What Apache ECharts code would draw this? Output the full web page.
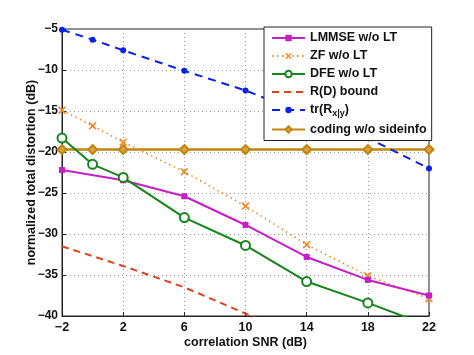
<!DOCTYPE html>
<html><head><meta charset="utf-8">
<script src="https://cdn.jsdelivr.net/npm/echarts@6/dist/echarts.min.js"></script>
<style>html,body{margin:0;padding:0;background:#fff}#c{width:474px;height:355px}</style>
</head><body><div id="c"></div>
<script>
const xTicks = [-2, 2, 6, 10, 14, 18, 22];
const yTicks = [-40, -35, -30, -25, -20, -15, -10, -5];
const snrAll = [-2, 0, 2, 6, 10, 14, 18, 22];
const snrLmmse = [-2, 2, 6, 10, 14, 18, 22];
const snrRD = [-2, 2, 6, 10, 14];
const lmmse = [-22.2, -23.45, -25.4, -28.9, -32.8, -35.6, -37.5];
const zf = [-14.9, -16.8, -18.8, -22.4, -26.6, -31.3, -35.1, -37.9];
const dfe = [-18.3, -21.5, -23.1, -28.0, -31.4, -35.8, -38.4, -41.2];
const rd = [-31.5, -33.9, -36.5, -39.7, -43.0];
const trR = [-5.1, -6.3, -7.6, -10.1, -12.5, -15.4, -18.3, -22.0];
const coding = [-19.7, -19.7, -19.7, -19.7, -19.7, -19.7, -19.7, -19.7];
const names = ['LMMSE w/o LT', 'ZF w/o LT', 'DFE w/o LT', 'R(D) bound', 'tr(Rx|y)', 'coding w/o sideinfo'];

const zip = (xs, ys) => xs.map((x, i) => [x, ys[i]]);
const FONT = 'Liberation Sans';
const crossPath = 'path://M0,1.4 L1.4,0 L5,3.6 L8.6,0 L10,1.4 L6.4,5 L10,8.6 L8.6,10 L5,6.4 L1.4,10 L0,8.6 L3.6,5 Z';
const flatPath = 'path://M0,0 L10,10';
const minus = v => String(v).replace('-', '\u2212');

const chart = echarts.init(document.getElementById('c'));
const axisLine = { show: true, onZero: false, lineStyle: { color: '#222', width: 1 } };
const tick = { show: true, inside: true, length: 4, lineStyle: { color: '#222' } };
const grid = { show: true, lineStyle: { color: '#999', type: [1, 3], width: 1 } };
chart.setOption({
  animation: false,
  textStyle: { fontFamily: FONT, fontWeight: 'bold' },
  grid: { left: 62, right: 45, top: 29, bottom: 39, show: true, borderColor: '#222', borderWidth: 1 },
  xAxis: {
    type: 'value', min: xTicks[0], max: xTicks[xTicks.length - 1], interval: 4,
    name: 'correlation SNR (dB)', nameLocation: 'middle', nameGap: 20, nameMoveOverlap: false,
    nameTextStyle: { fontFamily: FONT, fontWeight: 'bold', fontSize: 12.5, color: '#111' },
    axisLine, axisTick: tick, splitLine: grid,
    axisLabel: { margin: 5, fontFamily: FONT, fontWeight: 'bold', fontSize: 12.5, color: '#111', formatter: minus, showMinLabel: true, showMaxLabel: true }
  },
  yAxis: {
    type: 'value', min: yTicks[0], max: yTicks[yTicks.length - 1], interval: 5,
    name: 'normalized total distortion (dB)', nameLocation: 'middle', nameGap: 24, nameRotate: 90, nameMoveOverlap: false,
    nameTextStyle: { fontFamily: FONT, fontWeight: 'bold', fontSize: 12.5, color: '#111' },
    axisLine, axisTick: tick, splitLine: grid,
    axisLabel: { margin: 4, fontFamily: FONT, fontWeight: 'bold', fontSize: 12, color: '#111', formatter: minus }
  },
  legend: {
    orient: 'vertical', left: 264, top: 27,
    padding: [4, 5, 4, 7], itemGap: 4, itemWidth: 33, itemHeight: 8,
    backgroundColor: '#fff', borderColor: '#222', borderWidth: 1, borderRadius: 0,
    data: names,
    textStyle: {
      fontFamily: FONT, fontWeight: 'bold', fontSize: 12.5, color: '#111', lineHeight: 14,
      rich: {
        a: { fontFamily: FONT, fontWeight: 'bold', fontSize: 12.5, color: '#111' },
        s: { fontFamily: FONT, fontWeight: 'bold', fontSize: 9, color: '#111', padding: [8, 0, 0, 0] }
      }
    },
    formatter: n => n === 'tr(Rx|y)' ? '{a|tr(R}{s|x|y}{a|)}' : n
  },
  series: [
    { name: names[0], type: 'line', data: zip(snrLmmse, lmmse), symbol: 'rect', symbolSize: 6,
      itemStyle: { color: '#c81ec8' }, lineStyle: { width: 2, color: '#c81ec8' }, z: 5 },
    { name: names[1], type: 'line', data: zip(snrAll, zf), symbol: crossPath, symbolSize: 8,
      itemStyle: { color: '#ea8a24' }, lineStyle: { width: 1.6, color: '#ea8a24', type: [1.5, 3.5] }, z: 4 },
    { name: names[2], type: 'line', data: zip(snrAll, dfe), symbol: 'emptyCircle', symbolSize: 9,
      itemStyle: { color: '#14861a', borderWidth: 2 }, lineStyle: { width: 2, color: '#14861a' }, z: 6 },
    { name: names[3], type: 'line', data: zip(snrRD, rd), symbol: flatPath, showSymbol: false,
      itemStyle: { color: '#e2401c' }, lineStyle: { width: 2, color: '#e2401c', type: [7, 5] }, z: 3 },
    { name: names[4], type: 'line', data: zip(snrAll, trR), symbol: 'circle', symbolSize: 6,
      itemStyle: { color: '#0a22e8' }, lineStyle: { width: 2, color: '#0a22e8', type: [8, 6] }, z: 3 },
    { name: names[5], type: 'line', data: zip(snrAll, coding), symbol: 'diamond', symbolSize: 9,
      itemStyle: { color: '#d9a440', borderColor: '#c0860e', borderWidth: 2 }, lineStyle: { width: 2.5, color: '#c0860e' }, z: 2 }
  ]
});
</script></body></html>
